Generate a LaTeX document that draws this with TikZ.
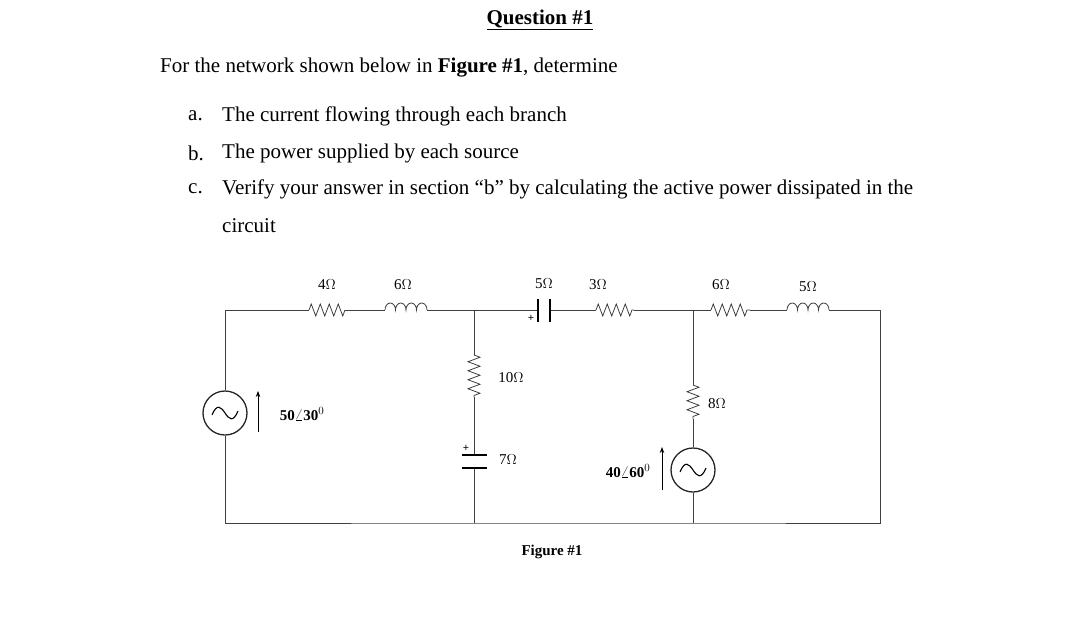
\documentclass[tikz,border=0pt]{standalone}
\usepackage{fontspec}
\setmainfont{Liberation Serif}
\usetikzlibrary{decorations.pathmorphing,arrows.meta}
\begin{document}
\begin{tikzpicture}[x=1pt,y=-1pt,
  wire/.style={line width=0.8pt,draw=black!75},
  res/.style={wire,decorate,decoration={zigzag,segment length=9pt,amplitude=6pt}},
  lbl/.style={font=\fontsize{15}{16}\selectfont},
  blbl/.style={font=\bfseries\fontsize{15}{16}\selectfont},
  txt/.style={font=\fontsize{21}{24}\selectfont,anchor=west,inner sep=0}]
\useasboundingbox (0,0) rectangle (1080,624);
% texts
\node[font=\bfseries\fontsize{21}{24}\selectfont] (q) at (540,20) {\underline{Question \#1}};
\node[txt] (t0) at (160,68) {For the network shown below in \textbf{Figure \#1}, determine};
\node[txt] (al) at (188,116) {a.}; \node[txt] (a) at (222,116) {The current flowing through each branch};
\node[txt] (bl) at (188,153) {b.}; \node[txt] (b) at (222,153) {The power supplied by each source};
\node[txt] (cl) at (188,189) {c.}; \node[txt] (c) at (222,189) {Verify your answer in section “b” by calculating the active power dissipated in the};
\node[txt] (c2) at (222,226) {circuit};
\node[blbl] (fig) at (552,552) {Figure \#1};
% corners / junctions
\coordinate (TL) at (225,310); \coordinate (BL) at (225,523);
\coordinate (TR) at (880,310); \coordinate (BR) at (880,523);
\coordinate (J1) at (474,310); \coordinate (J1b) at (474,523);
\coordinate (J2) at (693,310); \coordinate (J2b) at (693,523);
% left source
\node[circle,draw=black!85,line width=1.3pt,minimum size=44pt,inner sep=0] (S1) at (225,413) {};
\draw[line width=1.1pt] (212,415) .. controls (217,403) and (221,407) .. (225,413) .. controls (229,419) and (233,423) .. (238,411);
\draw[wire] (TL) -- (S1.north); \draw[wire] (S1.south) -- (BL) -- (J1b) -- (J2b) -- (BR) -- (TR);
\draw[-{Stealth[length=6pt]},line width=0.9pt] (258,432) -- (258,391);
\node[blbl] (v1) at (302,414) {50$\angle$30$^{0}$};
% top: 4 ohm resistor
\coordinate (r1a) at (309,310); \coordinate (r1b) at (345,310);
\draw[wire] (TL) -- (r1a);
\draw[res] (r1a) -- (r1b);
\node[lbl] (l4) at (327,285) {4$\Omega$};
% 6 ohm inductor
\coordinate (l1a) at (385,310); \coordinate (l1b) at (427,310);
\draw[wire] (r1b) -- (l1a);
\draw[wire] (l1a) foreach \i in {1,...,4} { arc[start angle=180,end angle=360,x radius=5.25,y radius=7] };
\node[lbl] (l6) at (403,285) {6$\Omega$};
\draw[wire] (l1b) -- (J1);
% middle vertical branch
\coordinate (r2a) at (474,355); \coordinate (r2b) at (474,397);
\draw[wire] (J1) -- (r2a); \draw[res] (r2a) -- (r2b);
\node[lbl] (l10) at (511,378) {10$\Omega$};
\coordinate (c1a) at (474,455); \coordinate (c1b) at (474,468);
\draw[wire] (r2b) -- (c1a); \draw[wire] (c1b) -- (J1b);
\draw[line width=1.1pt] (462,455) -- (487,455); \draw[line width=1.1pt] (462,468) -- (487,468);
\node[font=\bfseries\fontsize{11}{11}\selectfont] (p1) at (466,448) {+};
\node[lbl] (l7) at (508,460) {7$\Omega$};
% 5 ohm capacitor top
\coordinate (c2a) at (538,310); \coordinate (c2b) at (550,310);
\draw[wire] (J1) -- (c2a); \draw[wire] (c2b) -- (596,310);
\draw[line width=1.1pt] (538,299) -- (538,322); \draw[line width=1.1pt] (550,299) -- (550,322);
\node[font=\bfseries\fontsize{11}{11}\selectfont] (p2) at (531,318) {+};
\node[lbl] (l5a) at (544,284) {5$\Omega$};
% 3 ohm resistor
\coordinate (r3a) at (596,310); \coordinate (r3b) at (634,310);
\draw[res] (r3a) -- (r3b);
\node[lbl] (l3) at (598,285) {3$\Omega$};
\draw[wire] (r3b) -- (J2);
% 6 ohm resistor right
\coordinate (r4a) at (711,310); \coordinate (r4b) at (750,310);
\draw[wire] (J2) -- (r4a); \draw[res] (r4a) -- (r4b);
\node[lbl] (l6b) at (721,285) {6$\Omega$};
% 5 ohm inductor right
\coordinate (l2a) at (787,310); \coordinate (l2b) at (829,310);
\draw[wire] (r4b) -- (l2a);
\draw[wire] (l2a) foreach \i in {1,...,4} { arc[start angle=180,end angle=360,x radius=5.25,y radius=7] };
\node[lbl] (l5b) at (808,287) {5$\Omega$};
\draw[wire] (l2b) -- (TR);
% right vertical branch
\coordinate (r5a) at (693,385); \coordinate (r5b) at (693,419);
\draw[wire] (J2) -- (r5a); \draw[res] (r5a) -- (r5b);
\node[lbl] (l8) at (717,404) {8$\Omega$};
\node[circle,draw=black!85,line width=1.3pt,minimum size=44pt,inner sep=0] (S2) at (693,470) {};
\draw[line width=1.1pt] (680,472) .. controls (685,460) and (689,464) .. (693,470) .. controls (697,476) and (701,480) .. (706,468);
\draw[wire] (r5b) -- (S2.north); \draw[wire] (S2.south) -- (J2b);
\draw[-{Stealth[length=6pt]},line width=0.9pt] (662,490) -- (662,447);
\node[blbl] (v2) at (628,471) {40$\angle$60$^{0}$};
\end{tikzpicture}
\end{document}
